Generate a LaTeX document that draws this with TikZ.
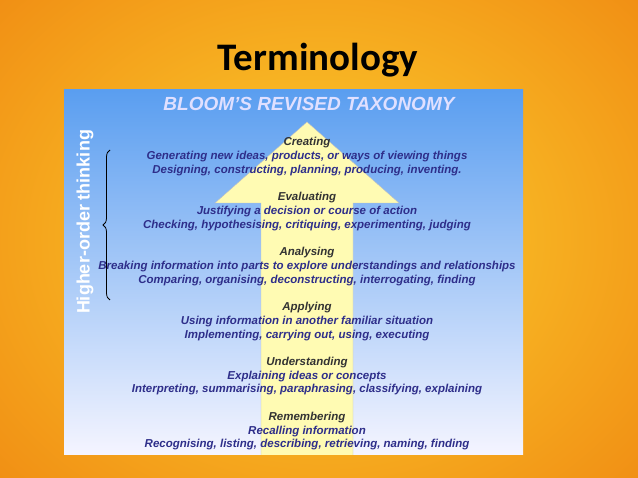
\documentclass[tikz,border=0pt]{standalone}
\usepackage{fontspec}
\setmainfont{Liberation Sans}
\newfontfamily\carl{Carlito}
\usetikzlibrary{decorations.pathreplacing}
\definecolor{navy}{HTML}{2E2E8A}
\definecolor{org}{HTML}{F08A12}
\definecolor{yel}{HTML}{FCD02E}
\definecolor{sky}{HTML}{5A9EF0}
\begin{document}
\begin{tikzpicture}[x=1pt,y=-1pt,
 head/.style={font=\fontsize{11.5}{13}\selectfont\bfseries\itshape,text=black!80},
 sub/.style={font=\fontsize{11.5}{13}\selectfont\bfseries\itshape,text=navy}]
\useasboundingbox (0,0) rectangle (638,478);
\shade[inner color=yel,outer color=org] (-150,-150) rectangle (788,628);
\node[font=\carl\fontsize{39}{42}\selectfont\bfseries] (title) at (318,60) {Terminology};
\shade[top color=sky,bottom color=blue!4!white] (64,90) rectangle (523,455);
\node[font=\fontsize{19}{21}\selectfont\bfseries\itshape,text=white!88!blue] (hdr) at (309,104) {BLOOM'S REVISED TAXONOMY};
\fill[yellow!30!white,draw=gray!50] (261,455) -- (261,203) -- (215,203) -- (307,122) -- (399,203) -- (353,203) -- (353,455);
\node[rotate=90,font=\fontsize{18}{20}\selectfont\bfseries,text=white] (hot) at (85,222) {Higher-order thinking};
\draw[decorate,decoration={brace,amplitude=7pt,mirror},thick] (110,150) -- (110,300);
\node[head] (c) at (307,143) {Creating};
\node[sub] at (307,157) {Generating new ideas, products, or ways of viewing things};
\node[sub] at (307,171) {Designing, constructing, planning, producing, inventing.};
\node[head] (e) at (307,198) {Evaluating};
\node[sub] at (307,212) {Justifying a decision or course of action};
\node[sub] at (307,226) {Checking, hypothesising, critiquing, experimenting, judging};
\node[head] (a) at (307,253) {Analysing};
\node[sub] at (307,267) {Breaking information into parts to explore understandings and relationships};
\node[sub] at (307,281) {Comparing, organising, deconstructing, interrogating, finding};
\node[head] (p) at (307,308) {Applying};
\node[sub] at (307,322) {Using information in another familiar situation};
\node[sub] at (307,336) {Implementing, carrying out, using, executing};
\node[head] (u) at (307,363) {Understanding};
\node[sub] at (307,377) {Explaining ideas or concepts};
\node[sub] at (307,390) {Interpreting, summarising, paraphrasing, classifying, explaining};
\node[head] (r) at (307,418) {Remembering};
\node[sub] at (307,432) {Recalling information};
\node[sub] at (307,445) {Recognising, listing, describing, retrieving, naming, finding};
\end{tikzpicture}
\end{document}
